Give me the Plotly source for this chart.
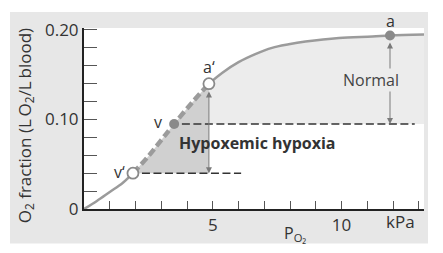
import numpy as np
import plotly.graph_objects as go

# ---- data ----
po2_kpa = [0, 0.5, 1.0, 1.5, 1.9, 2.5, 3.0, 3.5, 4.2, 4.85, 5.36, 6.0, 6.65, 7.3, 7.95, 8.6, 9.9, 11.2, 11.88, 13.2]
o2_frac = [0, 0.009, 0.019, 0.029, 0.040, 0.059, 0.077, 0.095, 0.119, 0.140, 0.152, 0.164, 0.173, 0.180, 0.184, 0.187, 0.191, 0.1926, 0.1938, 0.1948]

points_name = ["v‘", "v", "a‘", "a"]
points_x = [1.9, 3.5, 4.85, 11.88]
points_y = [0.040, 0.095, 0.140, 0.1938]
points_filled = [False, True, False, True]

vprime_line_x = [2.25, 6.1]
v_line_x = [3.8, 12.84]

x_tickvals = list(range(1, 14))
x_ticktext = ["5" if v == 5 else "10" if v == 10 else "" for v in x_tickvals]
y_tickvals = [round(0.02 * i, 2) for i in range(11)]
y_ticktext = ["0" if v == 0 else "0.10" if v == 0.1 else "0.20" if v == 0.2 else "" for v in y_tickvals]

# ---- styles ----
FONT = "Open Sans"
CURVE = "#9b9b9b"
MARK = "#8a8a8a"
DARK = "#333333"
ARROW = "#7a7a7a"
PANEL = "#e7e7e7"

x = np.array(po2_kpa)
y = np.array(o2_frac)
xv1, xv, xa1, xa = points_x
yv1, yv, ya1, ya = points_y

fig = go.Figure()

m = (x >= xv1) & (x <= xa1)
m2 = x >= xa1

# dark triangle: between v' level and curve, from v' to a'
fig.add_trace(go.Scatter(x=[xv1, xa1], y=[yv1, yv1], mode="lines",
                         line=dict(width=0), hoverinfo="skip"))
fig.add_trace(go.Scatter(x=x[m], y=y[m], mode="lines", fill="tonexty",
                         fillcolor="#d0d0d0", line=dict(width=0, shape="spline"),
                         hoverinfo="skip"))
# light region: between v level and curve, right of a'
fig.add_trace(go.Scatter(x=[xa1, x[-1]], y=[yv, yv], mode="lines",
                         line=dict(width=0), hoverinfo="skip"))
fig.add_trace(go.Scatter(x=x[m2], y=y[m2], mode="lines", fill="tonexty",
                         fillcolor="#ececec", line=dict(width=0, shape="spline"),
                         hoverinfo="skip"))

# dashed reference lines
fig.add_trace(go.Scatter(x=vprime_line_x, y=[yv1, yv1], mode="lines",
                         line=dict(color=DARK, width=1.6, dash="8px,3.5px")))
fig.add_trace(go.Scatter(x=v_line_x, y=[yv, yv], mode="lines",
                         line=dict(color=DARK, width=1.6, dash="8px,3.5px")))

# curve segments
s1 = x <= xv1
fig.add_trace(go.Scatter(x=x[s1], y=y[s1], mode="lines",
                         line=dict(color=CURVE, width=2.5, shape="spline")))
fig.add_trace(go.Scatter(x=x[m], y=y[m], mode="lines",
                         line=dict(color=CURVE, width=4.5, dash="8px,4px", shape="spline")))
fig.add_trace(go.Scatter(x=x[m2], y=y[m2], mode="lines",
                         line=dict(color=CURVE, width=2.5, shape="spline")))

# markers
for nm, px, py, filled in zip(points_name, points_x, points_y, points_filled):
    fig.add_trace(go.Scatter(
        x=[px], y=[py], mode="markers",
        marker=dict(size=11 if not filled else 10,
                    color=MARK if filled else "white",
                    line=dict(color=MARK, width=1.8 if not filled else 0))))

# arrows
fig.add_annotation(x=xa1, y=yv1, ax=xa1, ay=ya1 - 0.007, xref="x", yref="y",
                   axref="x", ayref="y", text="", showarrow=True,
                   arrowside="end+start", arrowhead=2, arrowsize=1.2,
                   arrowwidth=1, arrowcolor=ARROW)
fig.add_annotation(x=xa, y=yv, ax=xa, ay=ya - 0.006, xref="x", yref="y",
                   axref="x", ayref="y", text="", showarrow=True,
                   arrowside="end+start", arrowhead=2, arrowsize=1.2,
                   arrowwidth=1, arrowcolor=ARROW)

# point labels
lab_font = dict(family=FONT, size=16, color=DARK)
fig.add_annotation(x=xv1, y=yv1, text="v‘", showarrow=False, xshift=-13, yshift=1, font=lab_font)
fig.add_annotation(x=xv, y=yv, text="v", showarrow=False, xshift=-16, yshift=2, font=lab_font)
fig.add_annotation(x=xa1, y=ya1, text="a‘", showarrow=False, yshift=17, font=lab_font)
fig.add_annotation(x=xa, y=ya, text="a", showarrow=False, yshift=15, font=lab_font)

fig.add_annotation(x=11.16, y=0.1436, text="Normal", showarrow=False,
                   bgcolor="#ececec", borderpad=0,
                   font=dict(family=FONT, size=16, color="#444"))
fig.add_annotation(x=6.73, y=0.074, text="<b>Hypoxemic hypoxia</b>", showarrow=False,
                   font=dict(family=FONT, size=16, color=DARK))

# x-axis extra labels
fig.add_annotation(x=12.27, y=0, yref="y", text="kPa", showarrow=False,
                   yshift=-12, font=dict(family=FONT, size=17, color=DARK))
fig.add_annotation(x=8.2, y=0, yref="y", text="P<sub>O₂</sub>", showarrow=False,
                   yshift=-24, font=dict(family=FONT, size=16, color=DARK))

# y-axis title
fig.add_annotation(x=-0.172, y=0.46, xref="paper", yref="paper",
                   text="O<sub>2</sub> fraction (L\u2009O<sub>2</sub>/L\u2009blood)",
                   textangle=-90, showarrow=False, xanchor="center", yanchor="middle",
                   font=dict(family=FONT, size=17, color=DARK))

# white frame around the gray panel (paper is gray)
frame = [(-0.3, -0.2176, -0.3, 1.3), (1.0118, 1.1, -0.3, 1.3),
         (-0.3, 1.1, 1.0884, 1.3), (-0.3, 1.1, -0.3, -0.1906)]
for x0, x1, y0, y1 in frame:
    fig.add_shape(type="rect", xref="paper", yref="paper",
                  x0=x0, x1=x1, y0=y0, y1=y1,
                  fillcolor="white", line=dict(width=0), layer="above")

fig.update_layout(
    width=443, height=253,
    margin=dict(l=84, r=19, t=28, b=44),
    paper_bgcolor=PANEL, plot_bgcolor="white",
    showlegend=False,
    font=dict(family=FONT, color=DARK),
    xaxis=dict(range=[0, 13.2], tickvals=x_tickvals, ticktext=x_ticktext,
               ticks="inside", ticklen=8, tickwidth=1.3, tickcolor="#555",
               showline=True, linecolor="#222", linewidth=2,
               showgrid=False, zeroline=False,
               tickfont=dict(family=FONT, size=17, color=DARK)),
    yaxis=dict(range=[0, 0.2022], tickvals=y_tickvals, ticktext=y_ticktext,
               ticks="inside", ticklen=13, tickwidth=1.3, tickcolor="#555",
               showline=True, linecolor="#222", linewidth=2,
               showgrid=False, zeroline=False,
               tickfont=dict(family=FONT, size=17, color=DARK)),
)

fig.write_html("out.html")
